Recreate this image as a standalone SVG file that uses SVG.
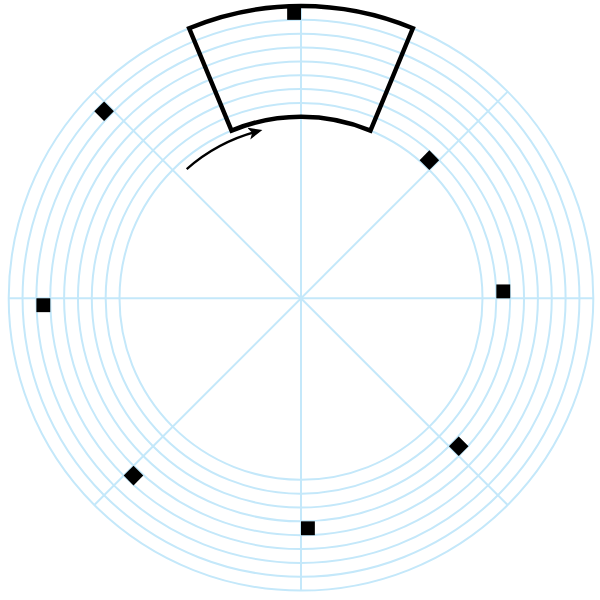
<svg xmlns="http://www.w3.org/2000/svg" width="600" height="600" viewBox="0 0 600 600">
<style>
.ring{fill:none;stroke:#c4e8fa;stroke-width:2}
.spoke{stroke:#c4e8fa;stroke-width:2}
.mark{fill:#000}
.wedge{fill:none;stroke:#000;stroke-width:4.5;stroke-linejoin:miter}
.arrow{fill:none;stroke:#000;stroke-width:2.2}
</style>
<defs>
<marker id="arr" markerUnits="userSpaceOnUse" markerWidth="16" markerHeight="14" refX="10" refY="6" orient="auto">
<path d="M0,0 L14,6 L0,12 L3.5,6 Z" fill="#000"/>
</marker>
</defs>
<rect width="600" height="600" fill="#fff"/>
<g transform="translate(301,298.3)">
<g id="grid">
<circle class="ring" r="181.5"/>
<circle class="ring" r="195.35"/>
<circle class="ring" r="209.2"/>
<circle class="ring" r="223.05"/>
<circle class="ring" r="236.9"/>
<circle class="ring" r="250.75"/>
<circle class="ring" r="264.6"/>
<circle class="ring" r="278.45"/>
<circle class="ring" r="292.3"/>
<line class="spoke" x1="-292.3" y1="0" x2="292.3" y2="0"/>
<line class="spoke" x1="0" y1="-292.3" x2="0" y2="292.3"/>
<line class="spoke" x1="-206.69" y1="-206.69" x2="206.69" y2="206.69"/>
<line class="spoke" x1="-206.69" y1="206.69" x2="206.69" y2="-206.69"/>
</g>
<g id="sector">
<path class="wedge" d="M -111.86 -270.05 A 292.3 292.3 0 0 1 111.86 -270.05 L 69.46 -167.68 A 181.5 181.5 0 0 0 -69.46 -167.68 Z"/>
</g>
<g id="connectors">
<path class="arrow" d="M -114.3 -129.2 A 172.5 172.5 0 0 1 -42.5 -167.2" marker-end="url(#arr)"/>
</g>
<g id="markers">
<rect class="mark" x="195.35" y="-13.85" width="13.85" height="13.85" transform="rotate(0)"/>
<rect class="mark" x="209.2" y="-13.85" width="13.85" height="13.85" transform="rotate(45)"/>
<rect class="mark" x="223.05" y="-13.85" width="13.85" height="13.85" transform="rotate(90)"/>
<rect class="mark" x="236.9" y="-13.85" width="13.85" height="13.85" transform="rotate(135)"/>
<rect class="mark" x="250.75" y="-13.85" width="13.85" height="13.85" transform="rotate(180)"/>
<rect class="mark" x="264.6" y="-13.85" width="13.85" height="13.85" transform="rotate(225)"/>
<rect class="mark" x="278.45" y="-13.85" width="13.85" height="13.85" transform="rotate(270)"/>
<rect class="mark" x="181.5" y="-13.85" width="13.85" height="13.85" transform="rotate(315)"/>
</g>
</g>
</svg>
